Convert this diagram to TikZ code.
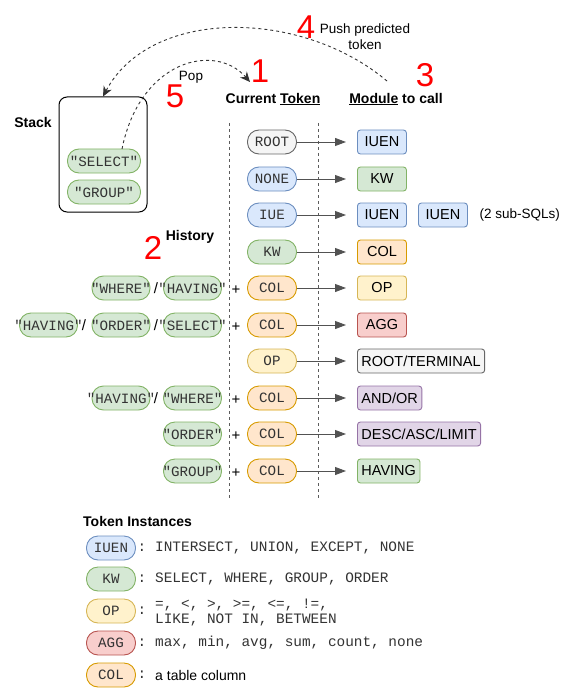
\documentclass[tikz,border=0pt]{standalone}
\usepackage{fontspec}
\setmainfont{Liberation Sans}
\setmonofont{Liberation Mono}
\usetikzlibrary{arrows.meta}
\definecolor{grayF}{HTML}{F5F5F5}\definecolor{grayD}{HTML}{666666}
\definecolor{blueF}{HTML}{DAE8FC}\definecolor{blueD}{HTML}{6C8EBF}
\definecolor{greenF}{HTML}{D5E8D4}\definecolor{greenD}{HTML}{82B366}
\definecolor{orangeF}{HTML}{FFE6CC}\definecolor{orangeD}{HTML}{D79B00}
\definecolor{yellowF}{HTML}{FFF2CC}\definecolor{yellowD}{HTML}{D6B656}
\definecolor{redF}{HTML}{F8CECC}\definecolor{redD}{HTML}{B85450}
\definecolor{purpleF}{HTML}{E1D5E7}\definecolor{purpleD}{HTML}{9673A6}
\definecolor{ink}{HTML}{333333}
\newcommand{\fsz}[1]{\fontsize{#1}{15}\selectfont}
\begin{document}
\begin{tikzpicture}[x=1pt,y=-1pt,
  cgray/.style={fill=grayF,draw=grayD},
  cblue/.style={fill=blueF,draw=blueD},
  cgreen/.style={fill=greenF,draw=greenD},
  corange/.style={fill=orangeF,draw=orangeD},
  cyellow/.style={fill=yellowF,draw=yellowD},
  cred/.style={fill=redF,draw=redD},
  cpurple/.style={fill=purpleF,draw=purpleD},
  pill/.style={rectangle,rounded corners=11.5pt,minimum height=24pt,minimum width=49pt,inner sep=0pt,line width=0.9pt,font=\ttfamily\fsz{14.2},text=ink},
  hpill/.style={pill,cgreen,minimum width=58pt},
  spill/.style={pill,cgreen,minimum width=73pt},
  mbox/.style={rectangle,rounded corners=3pt,minimum height=24pt,minimum width=49pt,inner xsep=4pt,inner ysep=0pt,line width=0.9pt,font=\fsz{14.5},anchor=west},
  hdr/.style={font=\bfseries\fsz{14},inner sep=1pt},
  num/.style={text=red,font=\fsz{33},inner sep=0pt},
  lbl/.style={font=\fsz{13.5}},
  arr/.style={draw=ink!85,line width=0.9pt,-{Triangle[length=11pt,width=8pt]},shorten >=11pt},
  darr/.style={draw=ink,line width=0.9pt,dash pattern=on 3pt off 3pt,-{Stealth[length=10pt,width=9pt]}},
  vline/.style={draw=ink!80,line width=0.9pt,dash pattern=on 3pt off 3pt},
  sym/.style={font=\fsz{15}},
  ldesc/.style={anchor=west,font=\ttfamily\fsz{14.4},text=ink,align=left,inner sep=0pt}
]
\useasboundingbox (0,0) rectangle (578,695);

% headers
\node[hdr] (hcur) at (273,99) {Current \underline{Token}};
\node[hdr] (hmod) at (396,99) {\underline{Module} to call};
\node[hdr] (hstack) at (33,122) {Stack};
\node[hdr] (hhist) at (190,237) {History};
\node[num] (n1) at (260,71) {1};
\node[num] (n2) at (153,248) {2};
\node[num] (n3) at (425,75) {3};
\node[num] (n4) at (306,27) {4};
\node[num] (n5) at (175,96) {5};
\node[lbl] (lpop) at (191,77) {Pop};
\node[lbl,align=center,inner sep=0pt] (lpush) at (365,37) {Push predicted\\[1pt]token};

% stack
\node[draw=black,line width=1pt,rounded corners=8pt,minimum width=88pt,minimum height=115pt] (stack) at (103,154.5) {};
\node[spill] (ssel) at (104,161) {\makebox[0pt]{"SELECT"}};
\node[spill] (sgrp) at (104,192) {\makebox[0pt]{"GROUP"}};

% dashed column separators
\coordinate (l1t) at (229,123); \coordinate (l1b) at (229,500);
\coordinate (l2t) at (318,123); \coordinate (l2b) at (318,500);
\draw[vline] (l1t) -- (l1b);
\draw[vline] (l2t) -- (l2b);

% current tokens
\node[pill,cgray]   (r1)  at (272,142) {\makebox[0pt]{ROOT}};
\node[pill,cblue]   (r2)  at (272,179) {\makebox[0pt]{NONE}};
\node[pill,cblue]   (r3)  at (272,215) {\makebox[0pt]{IUE}};
\node[pill,cgreen]  (r4)  at (272,252) {\makebox[0pt]{KW}};
\node[pill,corange] (r5)  at (272,288) {\makebox[0pt]{COL}};
\node[pill,corange] (r6)  at (272,325) {\makebox[0pt]{COL}};
\node[pill,cyellow] (r7)  at (272,361) {\makebox[0pt]{OP}};
\node[pill,corange] (r8)  at (272,398) {\makebox[0pt]{COL}};
\node[pill,corange] (r9)  at (272,434) {\makebox[0pt]{COL}};
\node[pill,corange] (r10) at (272,471) {\makebox[0pt]{COL}};

% modules
\node[mbox,cblue]   (m1)  at (357,142) {IUEN};
\node[mbox,cgreen]  (m2)  at (357,179) {KW};
\node[mbox,cblue]   (m3)  at (357,215) {IUEN};
\node[mbox,cblue]   (m3b) at (418,215) {IUEN};
\node[lbl,anchor=west] (sub) at (476,215) {(2 sub-SQLs)};
\node[mbox,corange] (m4)  at (357,252) {COL};
\node[mbox,cyellow] (m5)  at (357,288) {OP};
\node[mbox,cred]    (m6)  at (357,325) {AGG};
\node[mbox,cgray]   (m7)  at (357,361) {ROOT/TERMINAL};
\node[mbox,cpurple] (m8)  at (357,398) {AND/OR};
\node[mbox,cpurple] (m9)  at (357,434) {DESC/ASC/LIMIT};
\node[mbox,cgreen]  (m10) at (357,471) {HAVING};

\foreach \i in {1,...,10} {\draw[arr] (r\i.east) -- (m\i.west);}

% history
\node[hpill] (h5a) at (121,288) {\makebox[0pt]{"WHERE"}};
\node[sym]   (s5a) at (156,288) {/};
\node[hpill] (h5b) at (192.5,288) {\makebox[0pt]{"HAVING"}};
\node[sym]   (p5)  at (236,290) {+};

\node[hpill] (h6a) at (48.5,325) {\makebox[0pt]{"HAVING"}};
\node[sym]   (s6a) at (84,325) {/};
\node[hpill] (h6b) at (121,325) {\makebox[0pt]{"ORDER"}};
\node[sym]   (s6b) at (156,325) {/};
\node[hpill] (h6c) at (192.5,325) {\makebox[0pt]{"SELECT"}};
\node[sym]   (p6)  at (236,327) {+};

\node[hpill] (h8a) at (121,398) {\makebox[0pt]{"HAVING"}};
\node[sym]   (s8a) at (156,398) {/};
\node[hpill] (h8b) at (192.5,398) {\makebox[0pt]{"WHERE"}};
\node[sym]   (p8)  at (236,400) {+};

\node[hpill] (h9)  at (192.5,434) {\makebox[0pt]{"ORDER"}};
\node[sym]   (p9)  at (236,436) {+};

\node[hpill] (h10) at (192.5,471) {\makebox[0pt]{"GROUP"}};
\node[sym]   (p10) at (236,473) {+};

% curved arrows
\coordinate (pushS) at (387,81);
\coordinate (popS) at (122,149);
\coordinate (popE) at (250,82);
\draw[darr] (pushS) .. controls (300,8) and (150,8) .. (stack.north);
\draw[darr] (popS) .. controls (140,60) and (215,42) .. (popE);

% legend
\node[hdr,anchor=west,inner sep=0pt] (leg) at (83,521) {Token Instances};
\node[pill,cblue]   (l1) at (111,548) {\makebox[0pt]{IUEN}};
\node[pill,cgreen]  (l2) at (111,579) {\makebox[0pt]{KW}};
\node[pill,cyellow] (l3) at (111,611) {\makebox[0pt]{OP}};
\node[pill,cred]    (l4) at (111,643) {\makebox[0pt]{AGG}};
\node[pill,corange] (l5) at (111,675) {\makebox[0pt]{COL}};
\foreach \i/\y in {1/548,2/579,3/611,4/643,5/675} {\node[font=\ttfamily\fsz{14.4},text=ink] (c\i) at (142,\y) {:};}
\node[ldesc] (d1) at (155,548) {INTERSECT, UNION, EXCEPT, NONE};
\node[ldesc] (d2) at (155,579) {SELECT, WHERE, GROUP, ORDER};
\node[ldesc] (d3) at (155,613) {=, <, >, >=, <=, !=,\\LIKE, NOT IN, BETWEEN};
\node[ldesc] (d4) at (155,643) {max, min, avg, sum, count, none};
\node[anchor=west,inner sep=0pt,font=\fsz{14}] (d5) at (155,675) {a table column};
\end{tikzpicture}
\end{document}
